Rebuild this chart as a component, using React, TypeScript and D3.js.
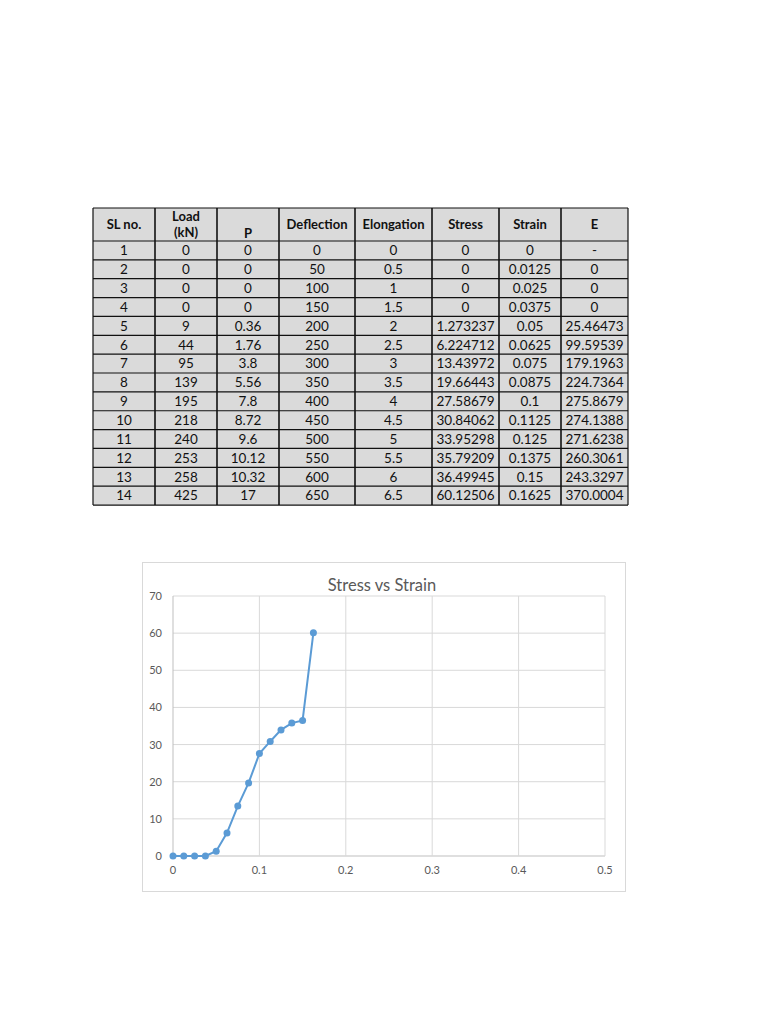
import React from "react";
import * as d3 from "d3";

const headers = ["SL no.", "Load\n(kN)", "P", "Deflection", "Elongation", "Stress", "Strain", "E"];
const slNo = ["1","2","3","4","5","6","7","8","9","10","11","12","13","14"];
const load = ["0","0","0","0","9","44","95","139","195","218","240","253","258","425"];
const pVals = ["0","0","0","0","0.36","1.76","3.8","5.56","7.8","8.72","9.6","10.12","10.32","17"];
const deflection = ["0","50","100","150","200","250","300","350","400","450","500","550","600","650"];
const elongation = ["0","0.5","1","1.5","2","2.5","3","3.5","4","4.5","5","5.5","6","6.5"];
const stressTxt = ["0","0","0","0","1.273237","6.224712","13.43972","19.66443","27.58679","30.84062","33.95298","35.79209","36.49945","60.12506"];
const strainTxt = ["0","0.0125","0.025","0.0375","0.05","0.0625","0.075","0.0875","0.1","0.1125","0.125","0.1375","0.15","0.1625"];
const eTxt = ["-","0","0","0","25.46473","99.59539","179.1963","224.7364","275.8679","274.1388","271.6238","260.3061","243.3297","370.0004"];

const strain = [0,0.0125,0.025,0.0375,0.05,0.0625,0.075,0.0875,0.1,0.1125,0.125,0.1375,0.15,0.1625];
const stress = [0,0,0,0,1.273237,6.224712,13.43972,19.66443,27.58679,30.84062,33.95298,35.79209,36.49945,60.12506];
const xTicks = [0,0.1,0.2,0.3,0.4,0.5];
const yTicks = [0,10,20,30,40,50,60,70];

const colEdges = [93,155,217,279,355,432,499,561,628];
const tableTop = 208;
const headerH = 33;
const rowH = 18.86;

const font = "Lato, 'Open Sans', sans-serif";

export default function App() {
  const columns = [slNo, load, pVals, deflection, elongation, stressTxt, strainTxt, eTxt];
  const nRows = slNo.length;
  const tableBottom = tableTop + headerH + nRows * rowH;

  const x = d3.scaleLinear().domain([0, 0.5]).range([173, 605]);
  const y = d3.scaleLinear().domain([0, 70]).range([856, 596]);
  const line = d3.line<number>().x((_, i) => x(strain[i])).y((d) => y(d));

  return (
    <svg width={768} height={1024} style={{ position: "absolute", left: 0, top: 0 }}>
      <rect width={768} height={1024} fill="#fff" />
      {/* table */}
      <rect x={colEdges[0]} y={tableTop} width={colEdges[8] - colEdges[0]} height={tableBottom - tableTop} fill="#dadada" />
      {d3.range(nRows + 2).map((i) => {
        const yy = i === 0 ? tableTop : tableTop + headerH + (i - 1) * rowH;
        return <line key={"h" + i} x1={colEdges[0]} x2={colEdges[8]} y1={yy} y2={yy} stroke="#111" strokeWidth={1.2} />;
      })}
      {colEdges.map((cx, i) => (
        <line key={"v" + i} x1={cx} x2={cx} y1={tableTop} y2={tableBottom} stroke="#111" strokeWidth={i === 0 || i === 8 ? 1.2 : 1.6} />
      ))}
      {headers.map((h, i) => {
        const cx = (colEdges[i] + colEdges[i + 1]) / 2;
        const parts = h.split("\n");
        if (parts.length > 1) {
          return (
            <text key={"hd" + i} x={cx} textAnchor="middle" fontFamily={font} fontWeight="bold" fontSize={13} fill="#111">
              <tspan x={cx} y={221}>{parts[0]}</tspan>
              <tspan x={cx} y={237}>{parts[1]}</tspan>
            </text>
          );
        }
        const ty = h === "P" ? 238 : 229;
        return (
          <text key={"hd" + i} x={cx} y={ty} textAnchor="middle" fontFamily={font} fontWeight="bold" fontSize={13} fill="#111">{h}</text>
        );
      })}
      {columns.map((col, c) =>
        col.map((v, r) => (
          <text key={"c" + c + "-" + r} x={(colEdges[c] + colEdges[c + 1]) / 2} y={tableTop + headerH + r * rowH + rowH / 2 + 4.8}
            textAnchor="middle" fontFamily={font} fontSize={13.5} fill="#111">{v}</text>
        ))
      )}

      {/* chart */}
      <rect x={142.5} y={562.5} width={483} height={329} fill="#fff" stroke="#d9d9d9" strokeWidth={1} />
      <text x={382} y={591} textAnchor="middle" fontFamily={font} fontSize={16.5} fill="#595959">Stress vs Strain</text>
      {yTicks.map((t) => (
        <g key={"yt" + t}>
          <line x1={x(0)} x2={x(0.5)} y1={y(t)} y2={y(t)} stroke={t === 0 ? "#bfbfbf" : "#d9d9d9"} strokeWidth={1} />
          <text x={162} y={y(t) + 4} textAnchor="end" fontFamily={font} fontSize={11} fill="#595959">{t}</text>
        </g>
      ))}
      {xTicks.map((t) => (
        <g key={"xt" + t}>
          <line x1={x(t)} x2={x(t)} y1={y(0)} y2={y(70)} stroke={t === 0 ? "#bfbfbf" : "#d9d9d9"} strokeWidth={1} />
          <text x={x(t)} y={874} textAnchor="middle" fontFamily={font} fontSize={11} fill="#595959">{t}</text>
        </g>
      ))}
      <path d={line(stress) || ""} fill="none" stroke="#5b9bd5" strokeWidth={2} />
      {stress.map((s, i) => (
        <circle key={"pt" + i} cx={x(strain[i])} cy={y(s)} r={3.5} fill="#5b9bd5" />
      ))}
    </svg>
  );
}
